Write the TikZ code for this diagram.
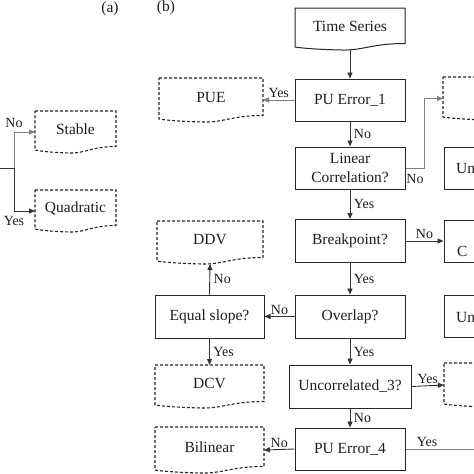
\documentclass[tikz,border=0pt]{standalone}
\usepackage{fontspec}
\setmainfont{Liberation Serif}
\usetikzlibrary{arrows.meta,calc}
\newcommand{\mkdoc}[7]{%
 \node[docbase, minimum width={#5-#3}, minimum height={#6-#4}] (#1) at ({(#3+#5)/2},{(#4+#6)/2}) {};
 \node[boxfont] (#1-t) at ({(#3+#5)/2},{(#4+#6)/2-3}) {#7};
 \draw[#2] (#3,#4) -- (#5,#4) -- (#5,{#6-6.5}) .. controls ({#5-0.3*(#5-#3)},{#6-6.5}) and ({#3+0.62*(#5-#3)},{#6+0.5}) .. ({#3+0.43*(#5-#3)},{#6}) .. controls ({#3+0.2*(#5-#3)},{#6-0.5}) and ({#3+0.05*(#5-#3)},{#6-2}) .. (#3,{#6-3}) -- cycle;
}
\begin{document}
\begin{tikzpicture}[x=1pt,y=-1pt,
  boxfont/.style={font=\fontsize{15.5}{19}\selectfont, text=black!88},
  labfont/.style={font=\fontsize{14}{16}\selectfont},
  procbox/.style={draw=black!85, line width=1pt, rectangle, boxfont, align=center, inner sep=0pt},
  docbase/.style={rectangle, inner sep=0pt, outer sep=0pt},
  docsolid/.style={draw=black!85, line width=1pt},
  docdash/.style={draw=black!85, line width=1.1pt, dash pattern=on 3pt off 2pt},
  conn/.style={draw=black!80, line width=0.9pt, -{Triangle[length=6pt,width=5pt]}},
  connlight/.style={draw=black!50, line width=0.9pt, -{Triangle[length=6pt,width=5pt]}},
  plainline/.style={draw=black!80, line width=0.9pt},
  plainlight/.style={draw=black!50, line width=0.9pt},
  lab/.style={labfont, inner sep=1.5pt, text=black!88},
]
\useasboundingbox (0,0) rectangle (474,474);
\clip (0,0) rectangle (474,474);
\fill[white] (0,0) rectangle (474,474);

% panel labels
\node[boxfont] (pa) at (110,9) {(a)};
\node[boxfont] (pb) at (166,8) {(b)};

% ---- panel (a) ----
\mkdoc{stable}{docdash}{35}{111}{116}{153}{Stable}
\mkdoc{quad}{docdash}{35}{190}{116}{232}{Quadratic}
\coordinate (ain) at (0,168);
\coordinate (asplit) at (14,168);
\draw[plainline] (ain) -- (asplit);
\draw[connlight] (asplit) |- (stable.west);
\draw[conn] (asplit) |- (quad.west);
\node[lab] (la1) at (14,123) {No};
\node[lab] (la2) at (14,221) {Yes};

% ---- panel (b) ----
\mkdoc{ts}{docsolid}{295}{8}{405}{50}{Time Series}
\node[procbox, minimum width=110pt, minimum height=42pt] (pu1) at (350,100) {PU Error\_1};
\node[procbox, minimum width=110pt, minimum height=42pt] (lin) at (350,168) {Linear\\Correlation?};
\node[procbox, minimum width=110pt, minimum height=43pt] (brk) at (350,241) {Breakpoint?};
\node[procbox, minimum width=110pt, minimum height=43pt] (ovl) at (350,316.5) {Overlap?};
\node[procbox, minimum width=122pt, minimum height=43pt] (unc3) at (350,386.5) {Uncorrelated\_3?};
\node[procbox, minimum width=110pt, minimum height=42pt] (pu4) at (350,449) {PU Error\_4};
\node[procbox, minimum width=109pt, minimum height=43pt] (eq) at (209.5,316.5) {Equal slope?};

\mkdoc{pue}{docdash}{159}{78}{263}{122}{PUE}
\mkdoc{ddv}{docdash}{157}{221}{263}{264}{DDV}
\mkdoc{dcv}{docdash}{155}{365}{264}{408}{DCV}
\mkdoc{bil}{docdash}{155}{427}{264}{473}{Bilinear}

% right column (cut off)
\mkdoc{rd1}{docdash}{443}{77}{553}{120}{}
\mkdoc{rd2}{docdash}{444}{363}{554}{407}{}
\node[procbox, minimum width=110pt, minimum height=42pt] (un1) at (499,168) {};
\node[procbox, minimum width=110pt, minimum height=42pt] (c1) at (499,241) {};
\node[procbox, minimum width=110pt, minimum height=42pt] (un2) at (499,316) {};
\node[boxfont, anchor=west, inner sep=0pt] (un1-t) at (456,168) {Un};
\node[boxfont, anchor=west, inner sep=0pt] (c1-t) at (457,251) {C};
\node[boxfont, anchor=west, inner sep=0pt] (un2-t) at (456,317) {Un};
\coordinate (r4) at (480,449);

% connectors
\draw[conn] (ts.south) -- (pu1.north);
\draw[connlight] (pu1.west) -- node[lab, above] (l1) {Yes} (pue.east);
\draw[conn] (pu1.south) -- node[lab, right=2pt] (l2) {No} (lin.north);
\draw[connlight] (lin.east) -- node[lab, below=4pt] (l3) {No} ++(19,0) |- (rd1.west);
\draw[conn] (lin.south) -- node[lab, right=2pt] (l4) {Yes} (brk.north);
\draw[conn] (brk.east) -- node[lab, above] (l5) {No} (c1.west);
\draw[conn] (brk.south) -- node[lab, right=2pt] (l6) {Yes} (ovl.north);
\draw[conn] (ovl.west) -- node[lab, above] (l7) {No} (eq.east);
\draw[conn] (ovl.south) -- node[lab, right=2pt] (l8) {Yes} (unc3.north);
\draw[conn] (eq.north) -- node[lab, right=2pt] (l9) {No} (ddv.south);
\draw[conn] (eq.south) -- node[lab, right=2pt] (l10) {Yes} (dcv.north);
\draw[conn] (unc3.east) -- node[lab, above] (l11) {Yes} (rd2.west);
\draw[conn] (unc3.south) -- node[lab, right=2pt] (l12) {No} (pu4.north);
\draw[conn] (pu4.west) -- node[lab, above] (l13) {No} (bil.east);
\draw[plainlight] (pu4.east) -- node[lab, above, pos=0.29] (l14) {Yes} (r4);
\end{tikzpicture}
\end{document}
